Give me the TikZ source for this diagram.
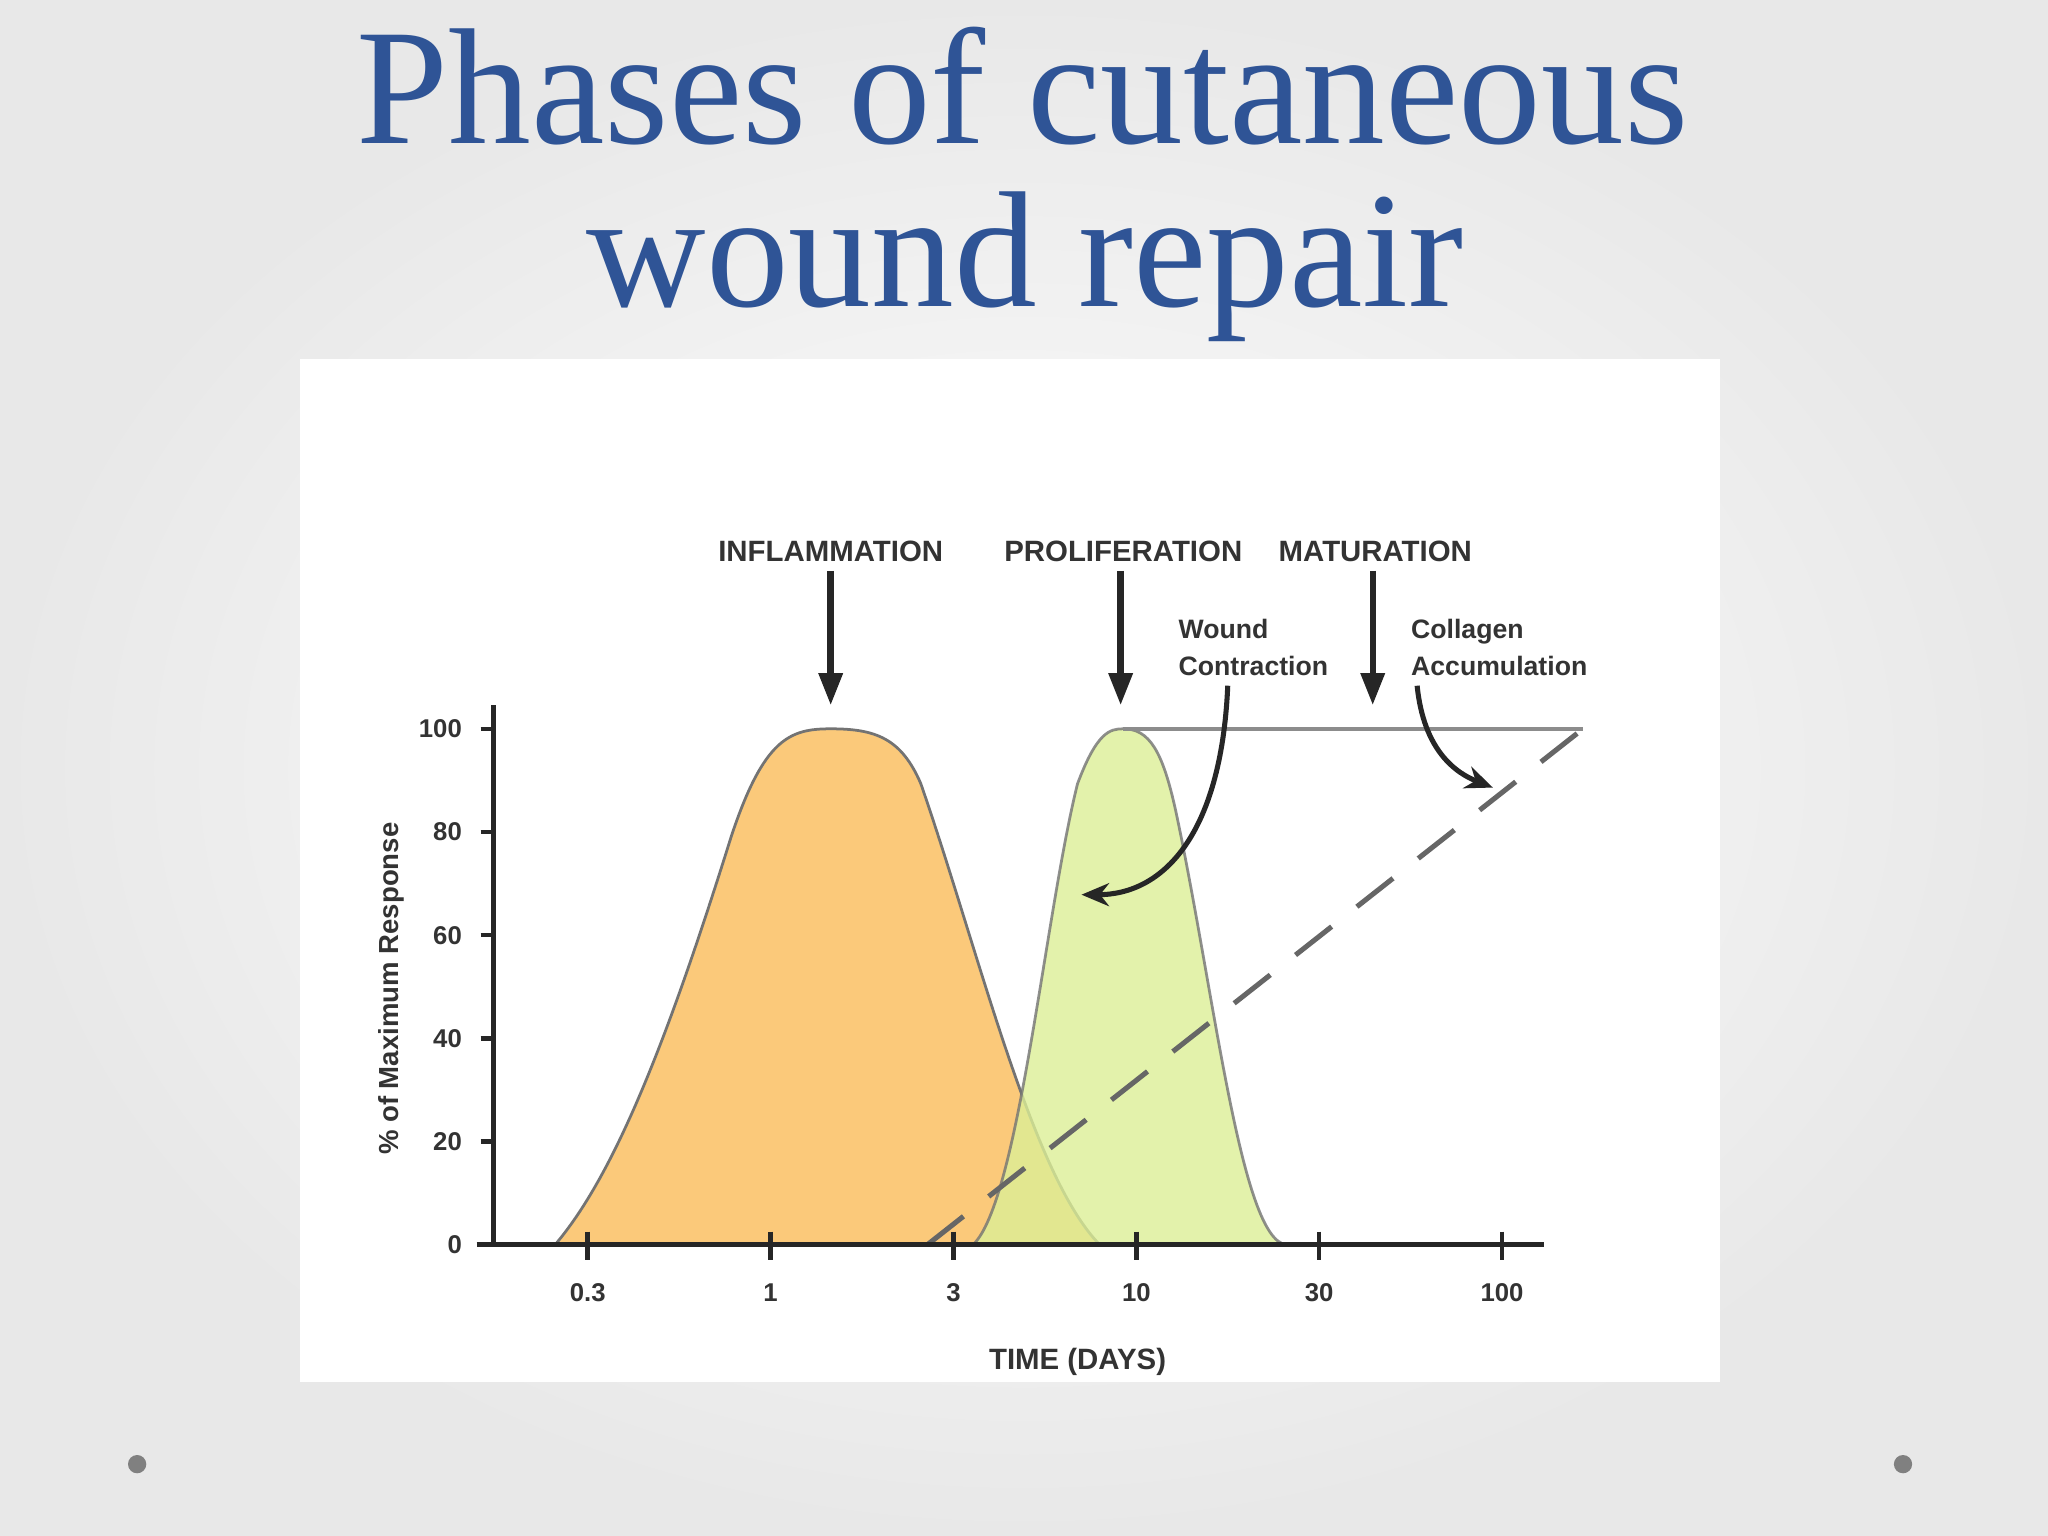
\documentclass[tikz,border=0pt]{standalone}
\usepackage{fontspec}
\setmainfont{Liberation Serif}
\newfontfamily\chartfont{Liberation Sans}
\usetikzlibrary{arrows.meta}
\definecolor{titleblue}{HTML}{2F5496}
\definecolor{orangefill}{HTML}{FBC97A}
\definecolor{greenfill}{HTML}{DCEF96}
\begin{document}
\begin{tikzpicture}[x=0.01cm,y=-0.01cm,
  lbl/.style={font=\chartfont\bfseries\fontsize{6.4}{7}\selectfont,text=black!80},
  tick/.style={font=\chartfont\bfseries\fontsize{5.6}{6}\selectfont,text=black!80},
  arr/.style={-{Triangle[length=7pt,width=5pt]},line width=1.4pt,black!85},
  carr/.style={-{Stealth[length=6pt,width=5pt]},line width=1.1pt,black!85}]
\useasboundingbox (0,0) rectangle (1568,1176);
\shade[inner color=white,outer color=black!9] (0,0) rectangle (1568,1176);
\fill[white] (230,275) rectangle (1317,1058);
% title
\node[text=titleblue,font=\fontsize{36}{40}\selectfont,anchor=base] (t1) at (783,110) {Phases of cutaneous};
\node[text=titleblue,font=\fontsize{36}{40}\selectfont,anchor=base] (t2) at (785,235) {wound repair};
% curves
\fill[orangefill,draw=black!55,line width=0.6pt] (425,953) .. controls (470,900) and (510,800) .. (560,640) .. controls (585,565) and (605,558) .. (636,558) .. controls (670,558) and (690,565) .. (705,600) .. controls (750,730) and (790,900) .. (842,953);
\fill[greenfill,opacity=0.8,draw=black!55,line width=0.6pt] (745,953) .. controls (780,920) and (800,700) .. (825,600) .. controls (840,560) and (850,558) .. (860,558) .. controls (880,558) and (890,575) .. (900,620) .. controls (930,760) and (950,950) .. (985,953) -- cycle;
\draw[black!45,line width=0.8pt] (860,558) -- (1212,558);
\draw[black!60,line width=1.1pt,dash pattern=on 10pt off 7pt] (710,953) -- (1212,558);
% axes
\draw[black!85,line width=1.2pt] (365,953) -- (1182,953);
\draw[black!85,line width=1.2pt] (378,540) -- (378,953);
\foreach \v/\y in {100/558,80/637,60/716,40/795,20/874,0/953}{
  \draw[black!85,line width=1pt] (368,\y) -- (378,\y);
  \node[tick,anchor=east] at (366,\y) {\v};}
\foreach \v/\x in {0.3/450,1/590,3/730,10/870,30/1010,100/1150}{
  \draw[black!85,line width=1pt] (\x,943) -- (\x,965);
  \node[tick] at (\x,990) {\v};}
\node[lbl] (xl) at (825,1043) {TIME (DAYS)};
\node[tick,rotate=90,font=\chartfont\bfseries\fontsize{6}{7}\selectfont] (yl) at (300,757) {\% of Maximum Response};
% phase labels & arrows
\node[lbl] (inf) at (636,422) {INFLAMMATION};
\node[lbl] (pro) at (860,422) {PROLIFERATION};
\node[lbl] (mat) at (1053,422) {MATURATION};
\coordinate (e1) at (636,540);\coordinate (e2) at (858,540);\coordinate (e3) at (1051,540);
\draw[arr] (636,437) -- (e1);
\draw[arr] (858,437) -- (e2);
\draw[arr] (1051,437) -- (e3);
\node[lbl,align=left,anchor=north west,font=\chartfont\bfseries\fontsize{5.8}{8}\selectfont] (wc) at (890,462) {Wound\\Contraction};
\node[lbl,align=left,anchor=north west,font=\chartfont\bfseries\fontsize{5.8}{8}\selectfont] (ca) at (1068,462) {Collagen\\Accumulation};
\coordinate (w1) at (828,685);\coordinate (c1) at (1143,603);
\draw[carr] (940,525) .. controls (935,640) and (890,685) .. (w1);
\draw[carr] (1085,525) .. controls (1090,575) and (1115,592) .. (c1);
% dots
\fill[black!50] (105,1121) circle (7);
\fill[black!50] (1457,1121) circle (7);
\end{tikzpicture}
\end{document}
